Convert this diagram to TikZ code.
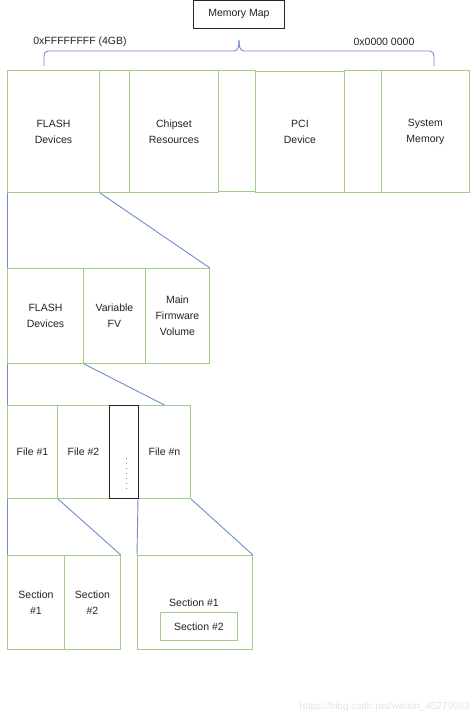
\documentclass[tikz,border=0pt]{standalone}
\usepackage{fontspec}
\setmainfont{Liberation Sans}
\definecolor{gbox}{RGB}{160,205,135}
\definecolor{bline}{RGB}{115,140,205}
\definecolor{txt}{RGB}{35,35,35}
\begin{document}
\begin{tikzpicture}[x=1pt,y=-1pt,
  gb/.style={draw=gbox,line width=0.9pt,text=txt,align=center,font=\fontsize{10.5}{16}\selectfont,inner sep=0pt},
  bl/.style={draw=bline,line width=0.9pt},
  lbl/.style={text=txt,font=\fontsize{10.5}{16}\selectfont,inner sep=0pt}]
\useasboundingbox (0,0) rectangle (474,722);
\fill[white] (0,0) rectangle (474,722);
% title
\node[draw=black!85,line width=0.8pt,minimum width=91pt,minimum height=28pt,lbl,anchor=north west] (mm) at (193,0) {Memory Map};
% brace
\coordinate (bt) at (239,40);
\coordinate (bl0) at (44,66);
\coordinate (br0) at (434,66);
\draw[bl] (bl0) -- (44,56) to[out=90,in=180] (48,51) -- (234,51) to[out=0,in=-90] (bt);
\draw[bl] (br0) -- (434,56) to[out=90,in=0] (430,51) -- (244,51) to[out=180,in=-90] (bt);
\node[lbl] (hi) at (80,42) {0xFFFFFFFF (4GB)};
\node[lbl] (lo) at (384,42) {0x0000 0000};
% row 1
\node[gb,anchor=north west,minimum width=92pt,minimum height=122pt] (f1) at (7,70) {FLASH\\Devices};
\node[gb,anchor=north west,minimum width=30pt,minimum height=122pt] (g1) at (99,70) {};
\node[gb,anchor=north west,minimum width=89pt,minimum height=122pt] (cs) at (129,70) {Chipset\\Resources};
\node[gb,anchor=north west,minimum width=37pt,minimum height=121pt] (g2) at (218,70) {};
\node[gb,anchor=north west,minimum width=89pt,minimum height=121pt] (pci) at (255,71) {PCI\\Device};
\node[gb,anchor=north west,minimum width=37pt,minimum height=122pt] (g3) at (344,70) {};
\node[gb,anchor=north west,minimum width=88pt,minimum height=122pt] (sm) at (381,70) {System\\Memory};
% row 2
\node[gb,anchor=north west,minimum width=76pt,minimum height=95pt] (f2) at (7,268) {FLASH\\Devices};
\node[gb,anchor=north west,minimum width=62pt,minimum height=95pt] (vf) at (83,268) {Variable\\FV};
\node[gb,anchor=north west,minimum width=64pt,minimum height=95pt] (mf) at (145,268) {Main\\Firmware\\Volume};
\draw[bl] (f1.south west) -- (f2.north west);
\draw[bl] (f1.south east) -- (mf.north east);
% row 3
\node[gb,anchor=north west,minimum width=50pt,minimum height=93pt] (fa) at (7,405) {File \#1};
\node[gb,anchor=north west,minimum width=52pt,minimum height=93pt] (fb) at (57,405) {File \#2};
\node[gb,anchor=north west,minimum width=52pt,minimum height=93pt] (fn) at (138,405) {File \#n};
\node[draw=black!85,line width=1pt,anchor=north west,minimum width=29pt,minimum height=93pt,inner sep=0pt] (dots) at (109,405) {};
\draw[black!45,line width=0.8pt,dash pattern=on 0.8pt off 4.2pt] (126,458) -- (126,490);
\draw[bl] (f2.south west) -- (fa.north west);
\draw[bl] (f2.south east) -- (fn.north);
% row 4
\node[gb,anchor=north west,minimum width=57pt,minimum height=94pt] (s1) at (7,555) {Section\\\#1};
\node[gb,anchor=north west,minimum width=56pt,minimum height=94pt] (s2) at (64,555) {Section\\\#2};
\node[gb,anchor=north west,minimum width=115pt,minimum height=94pt] (sb) at (137,555) {};
\node[lbl] (sb1) at (194,603) {Section \#1};
\node[gb,anchor=north west,minimum width=77pt,minimum height=28pt] (sb2) at (160,612) {Section \#2};
\draw[bl] (fa.south west) -- (s1.north west);
\draw[bl] (fa.south east) -- (s2.north east);
\draw[bl] (fn.south west) -- (sb.north west);
\draw[bl] (fn.south east) -- (sb.north east);
% watermark
\node[text=black!10,font=\fontsize{10}{12}\selectfont,inner sep=0pt,anchor=east] (wm) at (470,707) {https://blog.csdn.net/weixin\_45279063};
\end{tikzpicture}
\end{document}
